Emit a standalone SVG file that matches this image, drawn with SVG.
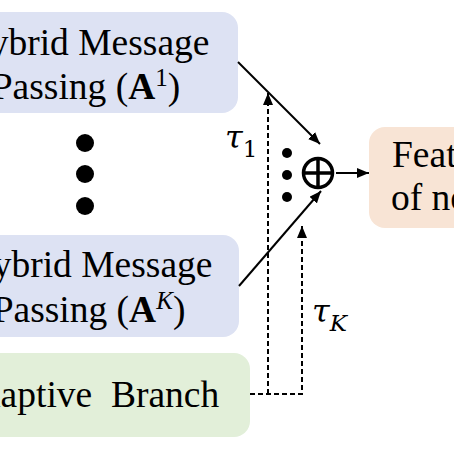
<svg xmlns="http://www.w3.org/2000/svg" width="454" height="454" viewBox="0 0 454 454">
<defs>
<style>
.t{font-family:"Liberation Serif","Times New Roman",serif;font-size:37.5px;fill:#000}
.m{font-family:"DejaVu Serif","Liberation Serif",serif;font-style:italic;fill:#000}
.b{font-weight:bold}
.solid{stroke:#000;stroke-width:2;fill:none}
.dash{stroke:#000;stroke-width:2;fill:none;stroke-dasharray:5 3}
</style>
<marker id="ah" viewBox="0 0 12 10" refX="12" refY="5" markerWidth="12" markerHeight="10" markerUnits="userSpaceOnUse" orient="auto">
<path d="M0,0 L12,5 L0,10 Z" fill="#000"/>
</marker>
</defs>
<rect width="454" height="454" fill="#fff"/>
<g id="hmp1">
<rect x="-70" y="12" width="308" height="101" rx="16" fill="#dde2f3"/>
<text class="t" x="86" y="55" text-anchor="middle">Hybrid Message</text>
<text class="t" x="86" y="99" text-anchor="middle">Passing (<tspan class="b">A</tspan><tspan font-size="25" dy="-13">1</tspan><tspan dy="13">)</tspan></text>
</g>
<g id="dots">
<circle cx="85" cy="143" r="9"/>
<circle cx="85" cy="174" r="9"/>
<circle cx="85" cy="206" r="9"/>
</g>
<g id="hmpK">
<rect x="-70" y="235" width="309" height="102" rx="16" fill="#dde2f3"/>
<text class="t" x="89" y="277" text-anchor="middle">Hybrid Message</text>
<text class="t" x="89" y="322" text-anchor="middle">Passing (<tspan class="b">A</tspan><tspan font-size="25" font-style="italic" dy="-13">K</tspan><tspan dy="13">)</tspan></text>
</g>
<g id="adaptive">
<rect x="-70" y="353" width="320" height="84" rx="16" fill="#e2efd9"/>
<text class="t" x="87" y="407" text-anchor="middle" xml:space="preserve">Adaptive  Branch</text>
</g>
<g id="sum">
<circle cx="318" cy="173" r="14.5" fill="none" stroke="#000" stroke-width="3.5"/>
<path d="M303.5,173 H332.5 M318,158.5 V187.5" stroke="#000" stroke-width="3.5"/>
<circle cx="287" cy="153" r="5"/>
<circle cx="287" cy="175" r="5"/>
<circle cx="287" cy="197" r="5"/>
</g>
<g id="features">
<rect x="369" y="127" width="140" height="101" rx="16" fill="#f8e4d5"/>
<text class="t" x="392" y="167">Features</text>
<text class="t" x="391" y="210">of nodes</text>
</g>
<g id="connectors">
<line class="solid" x1="238" y1="62" x2="320" y2="144" marker-end="url(#ah)"/>
<line class="solid" x1="239" y1="286" x2="321" y2="191" marker-end="url(#ah)"/>
<line class="solid" x1="336" y1="173" x2="369" y2="173" marker-end="url(#ah)"/>
<path class="dash" d="M250,394 H302 V226" marker-end="url(#ah)"/>
<path class="dash" d="M268,394 V93" marker-end="url(#ah)"/>
</g>
<g id="labels">
<text class="m" x="225" y="148" font-size="32">τ<tspan font-style="normal" font-size="23" dy="9">1</tspan></text>
<text class="m" x="312" y="322" font-size="32">τ<tspan font-size="23" dy="9">K</tspan></text>
</g>
</svg>
